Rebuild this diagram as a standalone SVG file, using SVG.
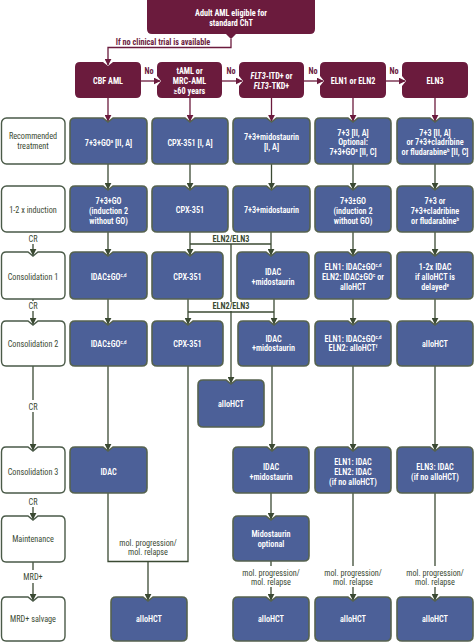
<svg xmlns="http://www.w3.org/2000/svg" width="474" height="643" viewBox="0 0 474 643">
<style>
.t{font-family:"Liberation Sans Narrow","Roboto Condensed","DejaVu Sans Condensed","Liberation Sans",sans-serif;font-size:8.2px;text-anchor:middle}
.w{fill:#fff;font-weight:600}
.g{fill:#3b4a33}
.m{fill:#6b1b3d}
.b{font-weight:bold}
.blue{fill:#4c6098;stroke:#55624f;stroke-width:1.6}
.lab{fill:#fff;stroke:#4a5a48;stroke-width:1.4}
.hdr{fill:#6b1b3d}
.cg{fill:none;stroke:#3b4a33;stroke-width:1.3}
.cm{fill:none;stroke:#6b1b3d;stroke-width:1.3}
.ag{marker-end:url(#ahg)}
.am{marker-end:url(#ahm)}
</style>
<defs>
<marker id="ahg" markerUnits="userSpaceOnUse" markerWidth="7" markerHeight="7" viewBox="0 0 10 10" refX="9" refY="5" orient="auto"><path d="M0,0 L10,5 L0,10 Z" fill="#3b4a33"/></marker>
<marker id="ahm" markerUnits="userSpaceOnUse" markerWidth="7" markerHeight="7" viewBox="0 0 10 10" refX="9" refY="5" orient="auto"><path d="M0,0 L10,5 L0,10 Z" fill="#6b1b3d"/></marker>
</defs>
<rect width="474" height="643" fill="#fff"/>

<g id="connectors">
<path class="cm am" d="M231,39 V47.5 H108 V65"/>
<path class="cm am" d="M141,81 H160"/>
<path class="cm am" d="M222,81 H242"/>
<path class="cm am" d="M304,81 H323"/>
<path class="cm am" d="M386,81 H405"/>
<path class="cm am" d="M108,98 V121"/>
<path class="cm am" d="M190,98 V121"/>
<path class="cm am" d="M271.5,98 V121"/>
<path class="cm am" d="M353,98 V121"/>
<path class="cm am" d="M435,98 V121"/>
<path class="cg ag" d="M108,164 V189"/>
<path class="cg ag" d="M190,164 V189"/>
<path class="cg ag" d="M271.5,164 V189"/>
<path class="cg ag" d="M353,164 V189"/>
<path class="cg ag" d="M435,164 V189"/>
<path class="cg ag" d="M108,232 V255"/>
<path class="cg ag" d="M190,232 V255"/>
<path class="cg ag" d="M271,232 V255"/>
<path class="cg" d="M190,244 H271"/>
<path class="cg ag" d="M231,244 V383"/>
<path class="cg ag" d="M353,232 V255"/>
<path class="cg ag" d="M435,232 V255"/>
<path class="cg ag" d="M108,299 V324"/>
<path class="cg ag" d="M188,299 V324"/>
<path class="cg ag" d="M274,299 V324"/>
<path class="cg" d="M188,312 H274"/>
<path class="cg ag" d="M353,299 V324"/>
<path class="cg ag" d="M435,299 V324"/>
<path class="cg ag" d="M108,366 V450"/>
<path class="cg ag" d="M272,366 V450"/>
<path class="cg ag" d="M353,366 V450"/>
<path class="cg ag" d="M435,366 V450"/>
<path class="cg" d="M188,366 V561.5 H108 V493"/>
<path class="cg ag" d="M148,561.5 V600"/>
<path class="cg ag" d="M271,493 V519"/>
<path class="cg" d="M271,561 V566"/>
<path class="cg ag" d="M271,587 V600"/>
<path class="cg" d="M353,493 V566"/>
<path class="cg ag" d="M353,587 V600"/>
<path class="cg" d="M435,493 V566"/>
<path class="cg ag" d="M435,587 V600"/>
<path class="cg ag" d="M33,244 V255"/>
<path class="cg" d="M33,299 V301"/>
<path class="cg ag" d="M33,311 V324"/>
<path class="cg" d="M33,366 V400"/>
<path class="cg ag" d="M33,412 V450"/>
<path class="cg ag" d="M33,507 V519"/>
<path class="cg" d="M33,562 V570"/>
<path class="cg ag" d="M33,583 V600"/>
<rect x="211" y="302" width="40" height="9" fill="#fff"/>
<text class="t g b" x="231" y="242">ELN2/ELN3</text>
<text class="t g b" x="231" y="309">ELN2/ELN3</text>
<text class="t m b" x="163" y="45">If no clinical trial is available</text>
<text class="t m b" x="149" y="74">No</text>
<text class="t m b" x="231" y="74">No</text>
<text class="t m b" x="313" y="74">No</text>
<text class="t m b" x="394" y="74">No</text>
<text class="t g" x="33" y="242">CR</text>
<text class="t g" x="33" y="309">CR</text>
<text class="t g" x="33" y="410">CR</text>
<text class="t g" x="33" y="505">CR</text>
<text class="t g" x="33" y="580">MRD+</text>
<text class="t g" x="271" y="576">mol. progression/</text>
<text class="t g" x="271" y="585">mol. relapse</text>
<text class="t g" x="353" y="576">mol. progression/</text>
<text class="t g" x="353" y="585">mol. relapse</text>
<text class="t g" x="435" y="576">mol. progression/</text>
<text class="t g" x="435" y="585">mol. relapse</text>
<text class="t g" x="148" y="545.5">mol. progression/</text>
<text class="t g" x="148" y="554.5">mol. relapse</text>
</g>

<g id="start">
<path class="hdr" d="M152,-6 H310 Q315,-6 315,-1 V29 Q315,34 310,34 H236 L231,39 L226,34 H152 Q147,34 147,29 V-1 Q147,-6 152,-6 Z"/>
<text class="t w b" x="231" y="16">Adult AML eligible for</text>
<text class="t w b" x="231" y="26">standard ChT</text>
</g>

<g id="h-cbf">
<path class="hdr" d="M80,62 H103 L108,66 L113,62 H136 Q141,62 141,67 V93 Q141,98 136,98 H80 Q75,98 75,93 V67 Q75,62 80,62 Z"/>
<text class="t w b" x="108" y="84">CBF AML</text>
</g>
<g id="h-taml">
<path class="hdr" d="M162,62 H217 Q222,62 222,67 V93 Q222,98 217,98 H162 Q157,98 157,93 V86 L161,81 L157,76 V67 Q157,62 162,62 Z"/>
<text class="t w b" x="189.5" y="74">tAML or</text>
<text class="t w b" x="189.5" y="84">MRC-AML</text>
<text class="t w b" x="189.5" y="93.5">≥60 years</text>
</g>
<g id="h-flt3">
<path class="hdr" d="M244,62 H299 Q304,62 304,67 V93 Q304,98 299,98 H244 Q239,98 239,93 V86 L243,81 L239,76 V67 Q239,62 244,62 Z"/>
<text class="t w b" x="271.5" y="78.5"><tspan font-style="italic">FLT3</tspan>-ITD+ or</text>
<text class="t w b" x="271.5" y="88.5"><tspan font-style="italic">FLT3</tspan>-TKD+</text>
</g>
<g id="h-eln12">
<path class="hdr" d="M325,62 H381 Q386,62 386,67 V93 Q386,98 381,98 H325 Q320,98 320,93 V86 L324,81 L320,76 V67 Q320,62 325,62 Z"/>
<text class="t w b" x="353" y="84">ELN1 or ELN2</text>
</g>
<g id="h-eln3">
<path class="hdr" d="M407,62 H463 Q468,62 468,67 V93 Q468,98 463,98 H407 Q402,98 402,93 V86 L406,81 L402,76 V67 Q402,62 407,62 Z"/>
<text class="t w b" x="435" y="84">ELN3</text>
</g>

<!-- Row 1 -->
<g id="l-rec"><rect class="lab" x="1.5" y="118" width="63.5" height="46" rx="5"/>
<text class="t g" x="33" y="139">Recommended</text><text class="t g" x="33" y="149">treatment</text></g>
<g id="r1c1"><path class="blue" d="M75,118 H103 L108,122 L113,118 H142 Q147,118 147,123 V159 Q147,164 142,164 H75 Q70,164 70,159 V123 Q70,118 75,118 Z"/>
<text class="t w" x="108.5" y="145.5">7+3+GO<tspan font-size="5" dy="-3">a</tspan><tspan dy="3"> [II, A]</tspan></text></g>
<g id="r1c2"><path class="blue" d="M157,118 H185 L190,122 L195,118 H223 Q228,118 228,123 V159 Q228,164 223,164 H157 Q152,164 152,159 V123 Q152,118 157,118 Z"/>
<text class="t w" x="190" y="145.5">CPX-351 [I, A]</text></g>
<g id="r1c3"><path class="blue" d="M238,118 H266.5 L271.5,122 L276.5,118 H305 Q310,118 310,123 V159 Q310,164 305,164 H238 Q233,164 233,159 V123 Q233,118 238,118 Z"/>
<text class="t w" x="271.5" y="140">7+3+midostaurin</text><text class="t w" x="271.5" y="150">[I, A]</text></g>
<g id="r1c4"><path class="blue" d="M320,118 H348 L353,122 L358,118 H386 Q391,118 391,123 V159 Q391,164 386,164 H320 Q315,164 315,159 V123 Q315,118 320,118 Z"/>
<text class="t w" x="353" y="135.5">7+3 [II, A]</text><text class="t w" x="353" y="145">Optional:</text>
<text class="t w" x="353" y="154.5">7+3+GO<tspan font-size="5" dy="-3">a</tspan><tspan dy="3"> [II, C]</tspan></text></g>
<g id="r1c5"><path class="blue" d="M402,118 H430 L435,122 L440,118 H468 Q473,118 473,123 V159 Q473,164 468,164 H402 Q397,164 397,159 V123 Q397,118 402,118 Z"/>
<text class="t w" x="435" y="135.5">7+3 [II, A]</text><text class="t w" x="435" y="145">or 7+3+cladribine</text>
<text class="t w" x="435" y="154.5">or fludarabine<tspan font-size="5" dy="-3">b</tspan><tspan dy="3"> [II, C]</tspan></text></g>

<!-- Row 2 -->
<g id="l-ind"><rect class="lab" x="1.5" y="186" width="63.5" height="46" rx="5"/>
<text class="t g" x="33" y="213">1-2 x induction</text></g>
<g id="r2c1"><path class="blue" d="M75,186 H103 L108,190 L113,186 H142 Q147,186 147,191 V227 Q147,232 142,232 H75 Q70,232 70,227 V191 Q70,186 75,186 Z"/>
<text class="t w" x="108.5" y="203.5">7+3+GO</text><text class="t w" x="108.5" y="213.5">(induction 2</text><text class="t w" x="108.5" y="223.5">without GO)</text></g>
<g id="r2c2"><path class="blue" d="M157,186 H185 L190,190 L195,186 H223 Q228,186 228,191 V227 Q228,232 223,232 H157 Q152,232 152,227 V191 Q152,186 157,186 Z"/>
<text class="t w" x="190" y="213">CPX-351</text></g>
<g id="r2c3"><path class="blue" d="M238,186 H266.5 L271.5,190 L276.5,186 H305 Q310,186 310,191 V227 Q310,232 305,232 H238 Q233,232 233,227 V191 Q233,186 238,186 Z"/>
<text class="t w" x="271.5" y="213">7+3+midostaurin</text></g>
<g id="r2c4"><path class="blue" d="M320,186 H348 L353,190 L358,186 H386 Q391,186 391,191 V227 Q391,232 386,232 H320 Q315,232 315,227 V191 Q315,186 320,186 Z"/>
<text class="t w" x="353" y="203.5">7+3±GO</text><text class="t w" x="353" y="213.5">(induction 2</text><text class="t w" x="353" y="223.5">without GO)</text></g>
<g id="r2c5"><path class="blue" d="M402,186 H430 L435,190 L440,186 H468 Q473,186 473,191 V227 Q473,232 468,232 H402 Q397,232 397,227 V191 Q397,186 402,186 Z"/>
<text class="t w" x="435" y="203.5">7+3 or</text><text class="t w" x="435" y="213.5">7+3+cladribine</text>
<text class="t w" x="435" y="223.5">or fludarabine<tspan font-size="5" dy="-3">b</tspan></text></g>

<!-- Row 3 -->
<g id="l-c1"><path class="lab" d="M6,252 H28 L33,256 L38,252 H60 Q65,252 65,257 V294 Q65,299 60,299 H6 Q1.5,299 1.5,294 V257 Q1.5,252 6,252 Z"/>
<text class="t g" x="33" y="280">Consolidation 1</text></g>
<g id="r3c1"><path class="blue" d="M75,252 H103 L108,256 L113,252 H142 Q147,252 147,257 V294 Q147,299 142,299 H75 Q70,299 70,294 V257 Q70,252 75,252 Z"/>
<text class="t w" x="108.5" y="280">IDAC±GO<tspan font-size="5" dy="-3">c,d</tspan></text></g>
<g id="r3c2"><path class="blue" d="M157,252 H185 L190,256 L195,252 H218 Q223,252 223,257 V294 Q223,299 218,299 H157 Q152,299 152,294 V257 Q152,252 157,252 Z"/>
<text class="t w" x="187.5" y="280">CPX-351</text></g>
<g id="r3c3"><path class="blue" d="M242,252 H266 L271,256 L276,252 H304 Q309,252 309,257 V294 Q309,299 304,299 H242 Q237,299 237,294 V257 Q237,252 242,252 Z"/>
<text class="t w" x="273" y="275">IDAC</text><text class="t w" x="273" y="285">+midostaurin</text></g>
<g id="r3c4"><path class="blue" d="M320,252 H348 L353,256 L358,252 H386 Q391,252 391,257 V294 Q391,299 386,299 H320 Q315,299 315,294 V257 Q315,252 320,252 Z"/>
<text class="t w" x="353" y="270">ELN1: IDAC±GO<tspan font-size="5" dy="-3">c,d</tspan></text>
<text class="t w" x="353" y="280">ELN2: IDAC±GO<tspan font-size="5" dy="-3">c</tspan><tspan dy="3"> or</tspan></text>
<text class="t w" x="353" y="290">alloHCT</text></g>
<g id="r3c5"><path class="blue" d="M402,252 H430 L435,256 L440,252 H468 Q473,252 473,257 V294 Q473,299 468,299 H402 Q397,299 397,294 V257 Q397,252 402,252 Z"/>
<text class="t w" x="435" y="270">1-2x IDAC</text><text class="t w" x="435" y="280">if alloHCT is</text>
<text class="t w" x="435" y="290">delayed<tspan font-size="5" dy="-3">e</tspan></text></g>

<!-- Row 4 -->
<g id="l-c2"><path class="lab" d="M6,321 H28 L33,325 L38,321 H60 Q65,321 65,326 V361 Q65,366 60,366 H6 Q1.5,366 1.5,361 V326 Q1.5,321 6,321 Z"/>
<text class="t g" x="33" y="347">Consolidation 2</text></g>
<g id="r4c1"><path class="blue" d="M75,321 H103 L108,325 L113,321 H142 Q147,321 147,326 V361 Q147,366 142,366 H75 Q70,366 70,361 V326 Q70,321 75,321 Z"/>
<text class="t w" x="108.5" y="347">IDAC±GO<tspan font-size="5" dy="-3">c,d</tspan></text></g>
<g id="r4c2"><path class="blue" d="M157,321 H183 L188,325 L193,321 H218 Q223,321 223,326 V361 Q223,366 218,366 H157 Q152,366 152,361 V326 Q152,321 157,321 Z"/>
<text class="t w" x="187.5" y="347">CPX-351</text></g>
<g id="r4c3"><path class="blue" d="M243,321 H269 L274,325 L279,321 H304 Q309,321 309,326 V361 Q309,366 304,366 H243 Q238,366 238,361 V326 Q238,321 243,321 Z"/>
<text class="t w" x="273.5" y="342">IDAC</text><text class="t w" x="273.5" y="351">+midostaurin</text></g>
<g id="r4c4"><path class="blue" d="M320,321 H348 L353,325 L358,321 H386 Q391,321 391,326 V361 Q391,366 386,366 H320 Q315,366 315,361 V326 Q315,321 320,321 Z"/>
<text class="t w" x="353" y="342">ELN1: IDAC±GO<tspan font-size="5" dy="-3">c,d</tspan></text>
<text class="t w" x="353" y="351">ELN2: alloHCT<tspan font-size="5" dy="-3">f</tspan></text></g>
<g id="r4c5"><path class="blue" d="M402,321 H430 L435,325 L440,321 H468 Q473,321 473,326 V361 Q473,366 468,366 H402 Q397,366 397,361 V326 Q397,321 402,321 Z"/>
<text class="t w" x="435" y="347">alloHCT</text></g>

<g id="allo-mid"><path class="blue" d="M203,380 H226 L231,384 L236,380 H259 Q264,380 264,385 V422 Q264,427 259,427 H203 Q198,427 198,422 V385 Q198,380 203,380 Z"/>
<text class="t w" x="231" y="407">alloHCT</text></g>

<!-- Row 5 -->
<g id="l-c3"><path class="lab" d="M6,447 H28 L33,451 L38,447 H60 Q65,447 65,452 V488 Q65,493 60,493 H6 Q1.5,493 1.5,488 V452 Q1.5,447 6,447 Z"/>
<text class="t g" x="33" y="474.5">Consolidation 3</text></g>
<g id="r5c1"><path class="blue" d="M75,447 H103 L108,451 L113,447 H142 Q147,447 147,452 V488 Q147,493 142,493 H75 Q70,493 70,488 V452 Q70,447 75,447 Z"/>
<text class="t w" x="108.5" y="474.5">IDAC</text></g>
<g id="r5c3"><path class="blue" d="M238,447 H267 L272,451 L277,447 H304 Q309,447 309,452 V488 Q309,493 304,493 H238 Q233,493 233,488 V452 Q233,447 238,447 Z"/>
<text class="t w" x="271" y="469.5">IDAC</text><text class="t w" x="271" y="479.5">+midostaurin</text></g>
<g id="r5c4"><path class="blue" d="M320,447 H348 L353,451 L358,447 H386 Q391,447 391,452 V488 Q391,493 386,493 H320 Q315,493 315,488 V452 Q315,447 320,447 Z"/>
<text class="t w" x="353" y="464.5">ELN1: IDAC</text><text class="t w" x="353" y="474.5">ELN2: IDAC</text><text class="t w" x="353" y="484.5">(if no alloHCT)</text></g>
<g id="r5c5"><path class="blue" d="M402,447 H430 L435,451 L440,447 H468 Q473,447 473,452 V488 Q473,493 468,493 H402 Q397,493 397,488 V452 Q397,447 402,447 Z"/>
<text class="t w" x="435" y="469.5">ELN3: IDAC</text><text class="t w" x="435" y="479.5">(if no alloHCT)</text></g>

<!-- Maintenance -->
<g id="l-maint"><path class="lab" d="M6,516 H28 L33,520 L38,516 H60 Q65,516 65,521 V557 Q65,562 60,562 H6 Q1.5,562 1.5,557 V521 Q1.5,516 6,516 Z"/>
<text class="t g" x="33" y="542">Maintenance</text></g>
<g id="r6c3"><path class="blue" d="M238,516 H266 L271,520 L276,516 H304 Q309,516 309,521 V556 Q309,561 304,561 H238 Q233,561 233,556 V521 Q233,516 238,516 Z"/>
<text class="t w" x="271" y="537">Midostaurin</text><text class="t w" x="271" y="547">optional</text></g>

<!-- Salvage -->
<g id="l-salv"><path class="lab" d="M6,597 H28 L33,601 L38,597 H60 Q65,597 65,602 V636 Q65,641 60,641 H6 Q1.5,641 1.5,636 V602 Q1.5,597 6,597 Z"/>
<text class="t g" x="33" y="622">MRD+ salvage</text></g>
<g id="r7c1"><path class="blue" d="M116,597 H143 L148,601 L153,597 H182 Q187,597 187,602 V636 Q187,641 182,641 H116 Q111,641 111,636 V602 Q111,597 116,597 Z"/>
<text class="t w" x="149" y="622">alloHCT</text></g>
<g id="r7c3"><path class="blue" d="M238,597 H266 L271,601 L276,597 H304 Q309,597 309,602 V636 Q309,641 304,641 H238 Q233,641 233,636 V602 Q233,597 238,597 Z"/>
<text class="t w" x="271" y="622">alloHCT</text></g>
<g id="r7c4"><path class="blue" d="M320,597 H348 L353,601 L358,597 H386 Q391,597 391,602 V636 Q391,641 386,641 H320 Q315,641 315,636 V602 Q315,597 320,597 Z"/>
<text class="t w" x="353" y="622">alloHCT</text></g>
<g id="r7c5"><path class="blue" d="M402,597 H430 L435,601 L440,597 H468 Q473,597 473,602 V636 Q473,641 468,641 H402 Q397,641 397,636 V602 Q397,597 402,597 Z"/>
<text class="t w" x="435" y="622">alloHCT</text></g>
</svg>
